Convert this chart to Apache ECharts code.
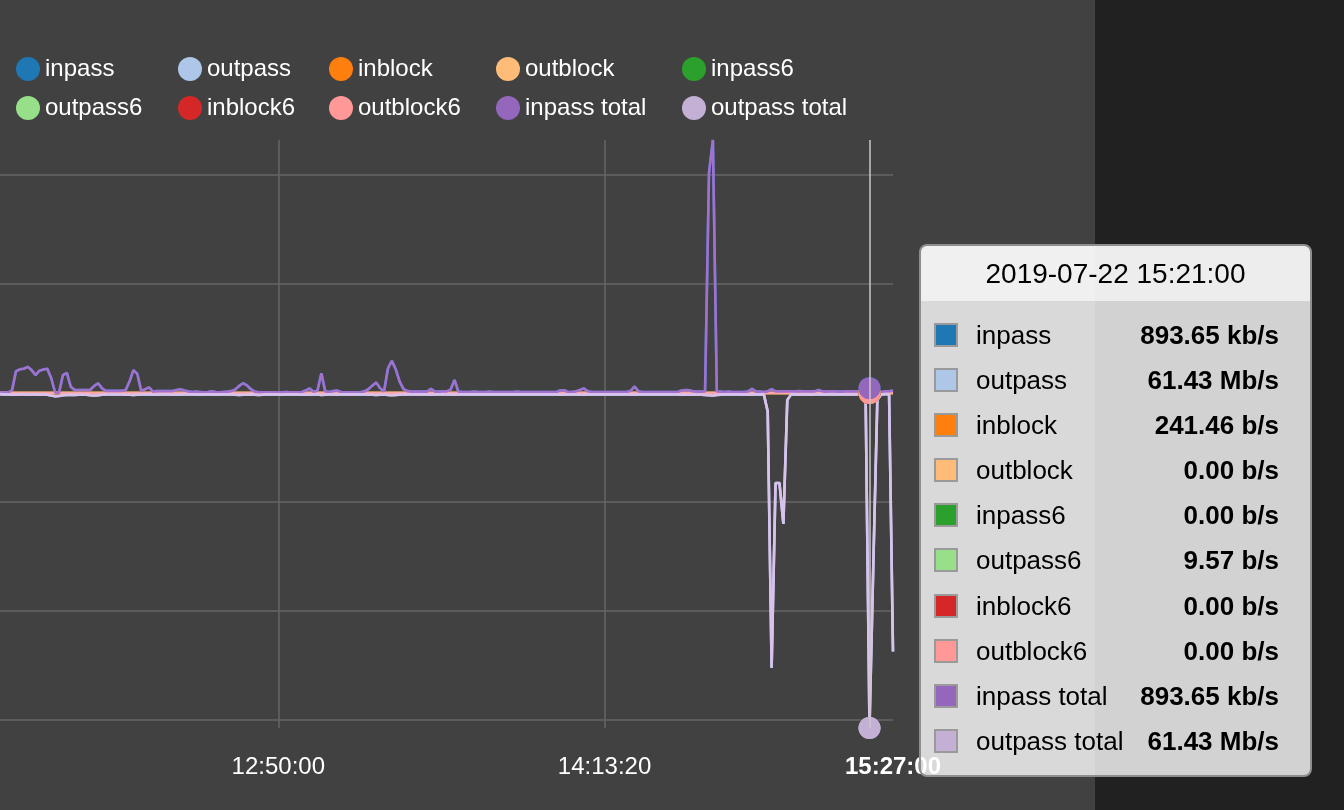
<!DOCTYPE html>
<html>
<head>
<meta charset="utf-8">
<script src="https://cdn.jsdelivr.net/npm/echarts@6/dist/echarts.min.js"></script>
<style>
  html, body { margin: 0; padding: 0; background: #212121; overflow: hidden; width: 1344px; height: 810px; }
  #chart { position: absolute; left: -48px; top: 0; width: 1143px; height: 810px; background: #414141; }
</style>
</head>
<body>
<div id="chart"></div>
<script>
// ---------------- data (rates in Mb/s) ----------------
const DATE = '2019-07-22';
const TZ_OFFSET_H = -7;            // timestamps shown in local time (UTC-7)
const START = '11:38:00';          // first sample, one sample per minute
const STEP_SEC = 60;

const seriesNames = ['inpass', 'outpass', 'inblock', 'outblock', 'inpass6', 'outpass6',
                     'inblock6', 'outblock6', 'inpass total', 'outpass total'];
const seriesColors = ['#1f77b4', '#aec7e8', '#ff7f0e', '#ffbb78', '#2ca02c', '#98df8a',
                      '#d62728', '#ff9896', '#9467bd', '#c5b0d5'];
const seriesDirection = [1, -1, 1, -1, 1, -1, 1, -1, 1, -1];   // "out" traffic drawn below zero

const inpass = [
  0.1, 0.1, 0.1, 0.1, 0.5, 4.0, 4.35, 4.45, 4.8, 4.2,
  3.3, 4.1, 4.3, 4.45, 2.75, 0.1, 0.05, 3.3, 3.7, 1.15,
  0.55, 0.55, 0.55, 0.55, 0.6, 1.3, 1.8, 0.85, 0.4, 0.4,
  0.4, 0.4, 0.4, 0.5, 2.1, 4.2, 3.5, 0.4, 0.7, 1.05,
  0.25, 0.35, 0.35, 0.35, 0.35, 0.35, 0.55, 0.7, 0.45, 0.3,
  0.2, 0.25, 0.2, 0.15, 0.2, 0.3, 0.2, 0.15, 0.2, 0.25,
  0.35, 0.65, 1.3, 1.8, 1.4, 0.7, 0.25, 0.15, 0.15, 0.15,
  0.15, 0.15, 0.15, 0.15, 0.2, 0.15, 0.15, 0.15, 0.2, 0.45,
  0.85, 0.25, 0.4, 3.6, 0.3, 0.2, 0.35, 0.45, 0.2, 0.15,
  0.15, 0.15, 0.15, 0.15, 0.3, 0.7, 1.35, 1.95, 0.9, 0.25,
  4.5, 5.9, 4.35, 2.1, 0.7, 0.35, 0.25, 0.25, 0.25, 0.25,
  0.25, 0.75, 0.25, 0.25, 0.3, 0.3, 0.6, 2.4, 0.25, 0.2,
  0.2, 0.2, 0.25, 0.2, 0.2, 0.2, 0.25, 0.2, 0.2, 0.2,
  0.2, 0.2, 0.2, 0.25, 0.2, 0.2, 0.2, 0.2, 0.2, 0.2,
  0.2, 0.2, 0.2, 0.2, 0.45, 0.5, 0.2, 0.2, 0.3, 0.55,
  0.85, 0.35, 0.2, 0.2, 0.2, 0.2, 0.2, 0.2, 0.2, 0.2,
  0.2, 0.2, 0.4, 1.2, 0.3, 0.2, 0.2, 0.2, 0.2, 0.2,
  0.2, 0.2, 0.2, 0.2, 0.2, 0.45, 0.55, 0.5, 0.3, 0.25,
  0.25, 0.3, 40.3, 46.4, 0.3, 0.25, 0.2, 0.25, 0.2, 0.2,
  0.2, 0.2, 0.3, 0.75, 0.25, 0.25, 0.2, 0.3, 0.7, 0.3,
  0.3, 0.3, 0.3, 0.3, 0.3, 0.35, 0.3, 0.3, 0.3, 0.3,
  0.55, 0.3, 0.25, 0.3, 0.3, 0.25, 0.25, 0.3, 0.3, 0.3,
  0.3, 0.3, 0.3, 0.89365, 0.3, 0.3, 0.2, 0.3, 0.3, 0.45
];

const outpass = [
  0.2, 0.2, 0.25, 0.25, 0.3, 0.3, 0.25, 0.25, 0.3, 0.25,
  0.25, 0.3, 0.25, 0.3, 0.45, 0.6, 0.55, 0.4, 0.35, 0.3,
  0.35, 0.3, 0.3, 0.3, 0.4, 0.45, 0.4, 0.3, 0.25, 0.25,
  0.25, 0.25, 0.25, 0.3, 0.3, 0.35, 0.3, 0.25, 0.25, 0.25,
  0.25, 0.3, 0.25, 0.25, 0.25, 0.3, 0.3, 0.25, 0.25, 0.25,
  0.25, 0.25, 0.3, 0.25, 0.25, 0.25, 0.3, 0.25, 0.25, 0.25,
  0.25, 0.3, 0.35, 0.3, 0.3, 0.25, 0.3, 0.35, 0.3, 0.25,
  0.25, 0.25, 0.25, 0.3, 0.25, 0.25, 0.25, 0.25, 0.3, 0.3,
  0.3, 0.25, 0.25, 0.35, 0.3, 0.25, 0.25, 0.3, 0.25, 0.25,
  0.25, 0.25, 0.25, 0.25, 0.25, 0.3, 0.3, 0.35, 0.3, 0.25,
  0.35, 0.4, 0.35, 0.3, 0.25, 0.25, 0.25, 0.25, 0.25, 0.25,
  0.25, 0.3, 0.25, 0.25, 0.25, 0.25, 0.25, 0.3, 0.25, 0.25,
  0.25, 0.25, 0.25, 0.25, 0.25, 0.25, 0.25, 0.25, 0.25, 0.25,
  0.25, 0.25, 0.25, 0.25, 0.25, 0.25, 0.25, 0.25, 0.25, 0.25,
  0.25, 0.25, 0.25, 0.25, 0.3, 0.3, 0.25, 0.25, 0.25, 0.3,
  0.3, 0.25, 0.25, 0.25, 0.25, 0.25, 0.25, 0.25, 0.25, 0.25,
  0.25, 0.25, 0.25, 0.3, 0.25, 0.25, 0.25, 0.25, 0.25, 0.25,
  0.25, 0.25, 0.25, 0.25, 0.25, 0.3, 0.3, 0.3, 0.25, 0.3,
  0.3, 0.35, 0.4, 0.45, 0.35, 0.3, 0.25, 0.25, 0.25, 0.25,
  0.25, 0.3, 0.25, 0.3, 0.25, 0.25, 0.2, 3.4, 50.4, 16.5,
  16.5, 24.0, 1.3, 0.2, 0.25, 0.3, 0.25, 0.25, 0.3, 0.25,
  0.25, 0.25, 0.25, 0.25, 0.25, 0.25, 0.25, 0.25, 0.25, 0.25,
  0.25, 0.25, 0.2, 61.43, 30.6, 1.3, 0.25, 0.2, 0.2, 47.4
];

// series that stay at ~0 across the whole window: [time, Mb/s]
const inblock   = [['11:38:00', 0], ['15:21:00', 0.00024146], ['15:27:00', 0]];
const outblock  = [['11:38:00', 0], ['15:21:00', 0], ['15:27:00', 0]];
const inpass6   = [['11:38:00', 0], ['15:21:00', 0], ['15:27:00', 0]];
const outpass6  = [['11:38:00', 0], ['15:21:00', 0.00000957], ['15:27:00', 0]];
const inblock6  = [['11:38:00', 0], ['15:21:00', 0], ['15:27:00', 0]];
const outblock6 = [['11:38:00', 0], ['15:21:00', 0], ['15:27:00', 0]];
// totals = v4 + v6; the v6 parts are ~0, so the totals equal inpass / outpass
const inpassTotal = inpass;
const outpassTotal = outpass;

const HOVER_TIME = '15:21:00';
const X_MIN = '11:26:40';
const X_MAX = '15:27:00';
const X_INTERVAL_SEC = 5000;

const legendColumns = [
  ['inpass', 'outpass6'], ['outpass', 'inblock6'], ['inblock', 'outblock6'],
  ['outblock', 'inpass total'], ['inpass6', 'outpass total']
];
const legendLeft = [64, 226, 377, 544, 730];

// ---------------- helpers ----------------
const FONT = "'Liberation Sans', Arial, Helvetica, sans-serif";
function toEpoch(hms) {
  const [h, m, s] = hms.split(':').map(Number);
  return Date.UTC(2019, 6, 22, h - TZ_OFFSET_H, m, s) / 1000;
}
const pad = n => String(n).padStart(2, '0');
function fmtTime(epoch) {
  const d = new Date((epoch + TZ_OFFSET_H * 3600) * 1000);
  return pad(d.getUTCHours()) + ':' + pad(d.getUTCMinutes()) + ':' + pad(d.getUTCSeconds());
}
function fmtRate(mbps) {
  const b = Math.abs(mbps) * 1e6;
  if (b >= 1e6) return (b / 1e6).toFixed(2) + ' Mb/s';
  if (b >= 1e3) return (b / 1e3).toFixed(2) + ' kb/s';
  return b.toFixed(2) + ' b/s';
}
const t0 = toEpoch(START);
const fromRegular = (arr, sign) => arr.map((v, i) => [t0 + i * STEP_SEC, sign * v]);
const fromPoints = (arr, sign) => arr.map(p => [toEpoch(p[0]), sign * p[1]]);

const sources = [
  fromRegular(inpass, 1), fromRegular(outpass, -1),
  fromPoints(inblock, 1), fromPoints(outblock, -1),
  fromPoints(inpass6, 1), fromPoints(outpass6, -1),
  fromPoints(inblock6, 1), fromPoints(outblock6, -1),
  fromRegular(inpassTotal, 1), fromRegular(outpassTotal, -1)
];

const xMax = toEpoch(X_MAX);

const option = {
  animation: false,
  backgroundColor: '#414141',
  legend: legendColumns.map((names, k) => ({
    data: names,
    orient: 'vertical',
    left: legendLeft[k],
    top: 57,
    padding: 0,
    itemWidth: 24,
    itemHeight: 24,
    itemGap: 15,
    icon: 'circle',
    textStyle: { color: '#ffffff', fontSize: 24, fontFamily: FONT }
  })),
  grid: { left: 0, right: 202, top: 140, bottom: 82, containLabel: false, outerBoundsMode: 'none' },
  tooltip: {
    trigger: 'axis',
    alwaysShowContent: true,
    transitionDuration: 0,
    showDelay: 0,
    hideDelay: 100000,
    position: [967, 244],
    backgroundColor: 'rgba(255,255,255,0.8)',
    borderColor: '#8e8e8e',
    borderWidth: 2,
    borderRadius: 8,
    padding: 0,
    textStyle: { color: '#000', fontSize: 26, fontFamily: FONT },
    extraCssText: 'box-shadow:none;width:393px;height:533px;box-sizing:border-box;overflow:hidden;',
    axisPointer: {
      type: 'line',
      lineStyle: { color: '#c9c9c9', width: 1.5, type: 'solid' },
      label: { show: false }
    },
    formatter: function (params) {
      let html = '<div style="height:55px;line-height:55px;text-align:center;font-size:28px;' +
        'background:rgba(255,255,255,0.6);border-radius:6px 6px 0 0;">' +
        DATE + ' ' + fmtTime(params[0].value[0]) + '</div>';
      html += '<div style="padding-top:12px;">';
      params.forEach(p => {
        html += '<div style="position:relative;height:45.1px;line-height:45.1px;font-size:26px;">' +
          '<span style="position:absolute;left:13px;top:10px;width:20px;height:20px;border:2px solid #9a9a9a;background:' + p.color + ';"></span>' +
          '<span style="position:absolute;left:55px;">' + p.seriesName + '</span>' +
          '<span style="position:absolute;right:31px;font-weight:bold;">' + fmtRate(p.value[1]) + '</span>' +
          '</div>';
      });
      html += '</div>';
      return html;
    }
  },
  xAxis: {
    type: 'value',
    min: toEpoch(X_MIN),
    max: xMax,
    interval: X_INTERVAL_SEC,
    axisLine: { show: false },
    axisTick: { show: false },
    splitLine: { show: true, showMinLine: false, showMaxLine: false, lineStyle: { color: '#666666', width: 1.5 } },
    axisLabel: {
      showMinLabel: false,
      showMaxLabel: true,
      margin: 27,
      color: '#ffffff',
      fontSize: 24,
      fontFamily: FONT,
      formatter: function (v) {
        return v === xMax ? '{b|' + fmtTime(v) + '}' : fmtTime(v);
      },
      rich: { b: { fontWeight: 'bold', fontSize: 24, color: '#ffffff', fontFamily: FONT } }
    }
  },
  yAxis: {
    type: 'value',
    min: 'dataMin',
    max: 'dataMax',
    axisLine: { show: false },
    axisTick: { show: false },
    axisLabel: { show: false },
    splitLine: { show: true, showMinLine: false, showMaxLine: false, lineStyle: { color: '#666666', width: 1.5 } }
  },
  series: seriesNames.map((name, k) => ({
    name: name,
    type: 'line',
    data: sources[k],
    color: seriesColors[k],
    showSymbol: false,
    symbol: 'circle',
    symbolSize: 22,
    lineStyle: { width: 2.6, color: seriesColors[k] },
    itemStyle: { color: seriesColors[k] },
    emphasis: { scale: false, lineStyle: { width: 2.6 }, itemStyle: { borderWidth: 0 } }
  }))
};

const chart = echarts.init(document.getElementById('chart'));
chart.setOption(option);
const hoverIndex = (toEpoch(HOVER_TIME) - t0) / STEP_SEC;
chart.dispatchAction({ type: 'showTip', seriesIndex: 8, dataIndex: hoverIndex });
</script>
</body>
</html>
